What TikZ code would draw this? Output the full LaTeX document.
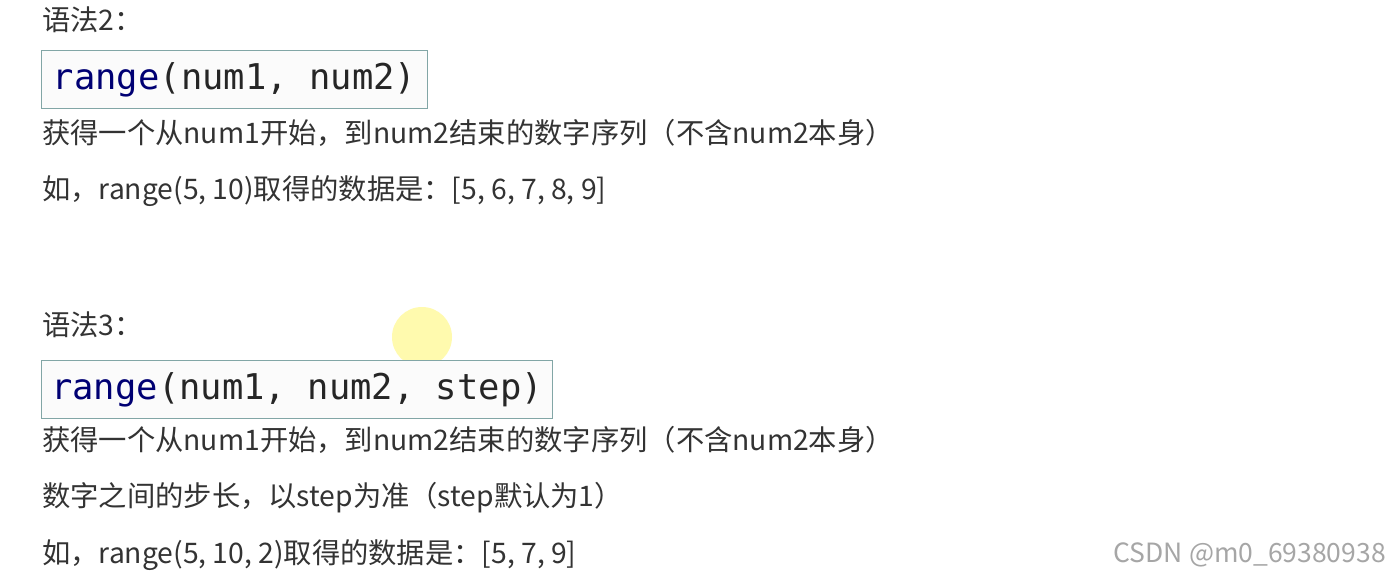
\documentclass[tikz,border=0pt]{standalone}
\usepackage{fontspec}
\setmainfont{Noto Sans CJK SC}
\newfontfamily\codefont{DejaVu Sans Mono}
\begin{document}
\begin{tikzpicture}[x=1pt,y=-1pt,
  txt/.style={anchor=west,inner sep=0pt,text=black!80,font=\fontsize{28.3}{32}\selectfont},
  codebox/.style={draw=gray!60!teal!70,fill=gray!3,line width=1pt,anchor=north west,minimum height=58pt,inner xsep=3pt,font=\codefont\fontsize{35.5}{40}\selectfont,text=black!85}]
\useasboundingbox (0,0) rectangle (1390,580);
\fill[white] (0,0) rectangle (1390,580);
\fill[yellow!35!white,opacity=0.9] (422,337) circle (30);
\node[txt] (h2) at (42,20) {语法2：};
\node[codebox,minimum width=386pt] (c2) at (41,50) {\textcolor{blue!45!black}{range}(num1, num2)\hfill};
\node[txt] (d2) at (42,133) {获得一个从num1开始，到num2结束的数字序列（不含num2本身）};
\node[txt] (e2) at (42,191) {如，range(5, 10)取得的数据是：[5, 6, 7, 8, 9]};
\node[txt] (h3) at (42,325) {语法3：};
\node[codebox,minimum width=511pt] (c3) at (41,360) {\textcolor{blue!45!black}{range}(num1, num2, step)};
\node[txt] (d3) at (42,440) {获得一个从num1开始，到num2结束的数字序列（不含num2本身）};
\node[txt] (f3) at (42,498) {数字之间的步长，以step为准（step默认为1）};
\node[txt] (e3) at (42,555) {如，range(5, 10, 2)取得的数据是：[5, 7, 9]};
\node[anchor=east,inner sep=0pt,text=black!35,font=\fontsize{26.5}{30}\selectfont] (wm) at (1386,555) {CSDN @m0\_69380938};
\end{tikzpicture}
\end{document}
